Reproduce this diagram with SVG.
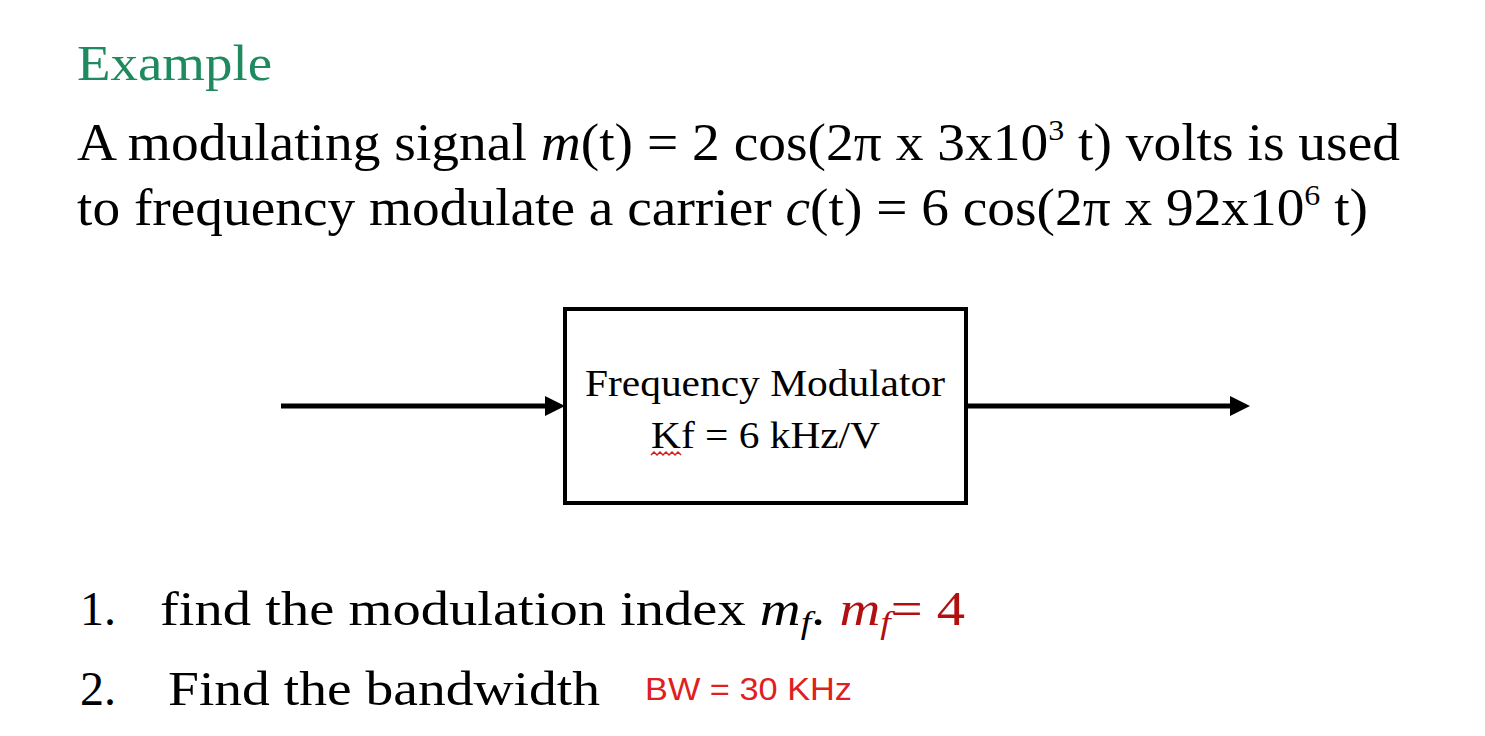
<svg xmlns="http://www.w3.org/2000/svg" width="1485" height="736" viewBox="0 0 1485 736">
<style>
.s{font-family:"Liberation Serif",serif;fill:#000}
.i{font-style:italic}
.r{fill:#b01010}
</style>
<rect width="1485" height="736" fill="#fff"/>
<text class="s" x="77" y="80" font-size="50" textLength="195" lengthAdjust="spacingAndGlyphs" style="fill:#1f8a5f">Example</text>
<text class="s" x="77" y="160" font-size="52" textLength="1323" lengthAdjust="spacingAndGlyphs">A modulating signal <tspan class="i">m</tspan>(t) = 2 cos(2π x 3x10<tspan font-size="30" dy="-20">3</tspan><tspan dy="20"> t) volts is used</tspan></text>
<text class="s" x="77" y="225" font-size="52" textLength="1291" lengthAdjust="spacingAndGlyphs">to frequency modulate a carrier <tspan class="i">c</tspan>(t) = 6 cos(2π x 92x10<tspan font-size="30" dy="-20">6</tspan><tspan dy="20"> t)</tspan></text>
<g id="connectors" stroke="#000" stroke-width="5" fill="none">
<path d="M281,406 H545" />
<path d="M545,396 L565,406 L545,416 z" fill="#000" stroke="none"/>
<path d="M966,406 H1230"/>
<path d="M1230,396 L1250,406 L1230,416 z" fill="#000" stroke="none"/>
</g>
<g id="modulator">
<rect x="565" y="309" width="401" height="194" fill="#fff" stroke="#000" stroke-width="4"/>
<text class="s" x="585" y="396" font-size="38" textLength="360" lengthAdjust="spacingAndGlyphs">Frequency Modulator</text>
<text class="s" x="651" y="448" font-size="38" textLength="229" lengthAdjust="spacingAndGlyphs">Kf = 6 kHz/V</text>
<path d="M651,455 l3,-3 l3,3 l3,-3 l3,3 l3,-3 l3,3 l3,-3 l3,3 l3,-3 l3,3" stroke="#d02020" stroke-width="1.5" fill="none"/>
</g>
<text class="s" x="80" y="625" font-size="48">1.</text>
<text class="s" x="160" y="625" font-size="48" textLength="805" lengthAdjust="spacingAndGlyphs">find the modulation index <tspan class="i">m<tspan font-size="32" dy="8">f</tspan></tspan><tspan dy="-8">. </tspan><tspan class="i r">m<tspan font-size="32" dy="8">f</tspan></tspan><tspan class="r" dy="-8">= 4</tspan></text>
<text class="s" x="80" y="705" font-size="48">2.</text>
<text class="s" x="168" y="705" font-size="48" textLength="432" lengthAdjust="spacingAndGlyphs">Find the bandwidth</text>
<text x="645" y="700" font-size="32" font-family="Liberation Sans, sans-serif" fill="#e02020" textLength="207" lengthAdjust="spacingAndGlyphs">BW = 30 KHz</text>
</svg>
